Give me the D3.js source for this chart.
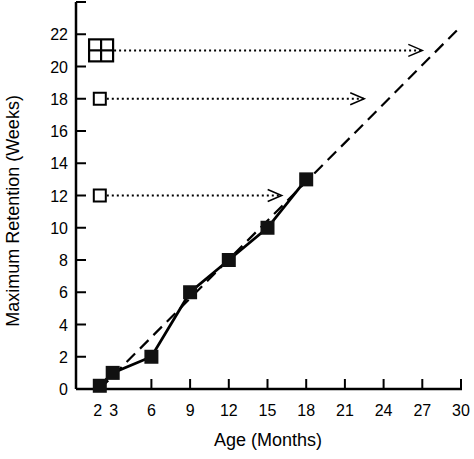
<!DOCTYPE html><html><head><script src="https://cdn.jsdelivr.net/npm/d3@7"></script>
<style>body{margin:0;background:#fff}</style></head><body><svg id="c" width="474" height="459"></svg>
<script>
const ages=[2,3,6,9,12,15,18];
const retention=[0.2,1,2,6,8,10,13];
const openY=[12,18];
const bigY=21;
const arrowEnds=[[12,16.1],[18,22.5],[21,27]];
const trend=[[2,0],[30,22.5]];
const xTicks=[6,9,12,15,18,21,24,27,30];
const xLabels=[2,3,6,9,12,15,18,21,24,27,30];
const yTicks=[0,2,4,6,8,10,12,14,16,18,20,22,24];
const svg=d3.select("#c");
const x=d3.scaleLinear().domain([0,30]).range([74,461]);
const y=d3.scaleLinear().domain([0,24]).range([389,2]);
const F="Helvetica, Arial, 'Liberation Sans', sans-serif";
svg.append("line").attr("x1",76).attr("x2",76).attr("y1",y(24)).attr("y2",y(0)).attr("stroke","#000").attr("stroke-width",2.5);
svg.append("line").attr("x1",76).attr("x2",x(30)+1).attr("y1",y(0)).attr("y2",y(0)).attr("stroke","#000").attr("stroke-width",2.5);
yTicks.forEach(t=>{svg.append("line").attr("x1",76).attr("x2",86).attr("y1",y(t)).attr("y2",y(t)).attr("stroke","#000").attr("stroke-width",2);
 if(t<24)svg.append("text").attr("x",68).attr("y",y(t)+6).attr("text-anchor","end").attr("font-family",F).attr("font-size",16).text(t);});
xTicks.forEach(t=>svg.append("line").attr("x1",x(t)).attr("x2",x(t)).attr("y1",y(0)).attr("y2",y(0)-10).attr("stroke","#000").attr("stroke-width",2));
xLabels.forEach(t=>svg.append("text").attr("x",t===2?x(t)-2:t===3?x(t)+1:x(t)).attr("y",416).attr("text-anchor","middle").attr("font-family",F).attr("font-size",16).text(t));
svg.append("text").attr("x",268).attr("y",446).attr("text-anchor","middle").attr("font-family",F).attr("font-size",18).text("Age (Months)");
svg.append("text").attr("transform","translate(19,211) rotate(-90)").attr("text-anchor","middle").attr("font-family",F).attr("font-size",18).text("Maximum Retention (Weeks)");
svg.append("line").attr("x1",x(trend[0][0])).attr("y1",y(trend[0][1])).attr("x2",x(trend[1][0])).attr("y2",y(trend[1][1])).attr("stroke","#000").attr("stroke-width",2.2).attr("stroke-dasharray","12,7");
svg.append("path").attr("d",d3.line().x((d,i)=>x(ages[i])).y(d=>y(d))(retention)).attr("fill","none").attr("stroke","#000").attr("stroke-width",2.8);
ages.forEach((a,i)=>svg.append("rect").attr("x",x(a)-7).attr("y",y(retention[i])-7).attr("width",14).attr("height",14).attr("fill","#111"));
arrowEnds.forEach(([yy,xe])=>{const x0=yy===21?x(2.1)+13:x(2)+7,xx=x(xe);
 svg.append("line").attr("x1",x0).attr("x2",xx).attr("y1",y(yy)).attr("y2",y(yy)).attr("stroke","#000").attr("stroke-width",2).attr("stroke-dasharray","2,3");
 svg.append("path").attr("d",`M${xx-14},${y(yy)-6}L${xx},${y(yy)}L${xx-14},${y(yy)+6}`).attr("fill","none").attr("stroke","#000").attr("stroke-width",1.5);});
openY.forEach(v=>svg.append("rect").attr("x",x(2)-6).attr("y",y(v)-6).attr("width",12).attr("height",12).attr("fill","#fff").attr("stroke","#000").attr("stroke-width",2));
const bx=x(2.1);
svg.append("rect").attr("x",bx-12).attr("y",y(bigY)-11).attr("width",24).attr("height",22).attr("fill","#fff").attr("stroke","#000").attr("stroke-width",2.2);
svg.append("line").attr("x1",bx).attr("x2",bx).attr("y1",y(bigY)-11).attr("y2",y(bigY)+11).attr("stroke","#000").attr("stroke-width",2.2);
svg.append("line").attr("x1",bx-12).attr("x2",bx+12).attr("y1",y(bigY)).attr("y2",y(bigY)).attr("stroke","#000").attr("stroke-width",2.2);
</script></body></html>
